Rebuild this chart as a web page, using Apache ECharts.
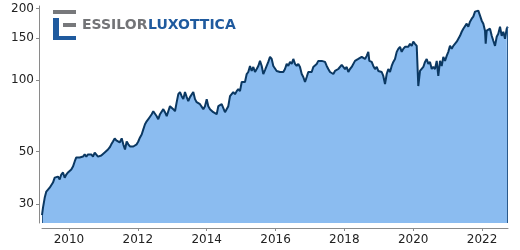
<!DOCTYPE html>
<html>
<head>
<meta charset="utf-8">
<script src="https://cdn.jsdelivr.net/npm/echarts@6/dist/echarts.min.js"></script>
<style>
html,body{margin:0;padding:0;background:#fff;}
#chart{width:520px;height:250px;}
</style>
</head>
<body>
<div id="chart"></div>
<script>
// Decimal years of each sample
const years = [
2009.216,2009.245,2009.294,2009.341,2009.390,2009.439,2009.486,2009.535,2009.585,2009.631,
2009.680,2009.730,2009.776,2009.826,2009.875,2009.922,2009.971,2010.020,2010.067,2010.116,
2010.166,2010.212,2010.261,2010.311,2010.357,2010.407,2010.456,2010.503,2010.552,2010.601,
2010.648,2010.697,2010.747,2010.793,2010.843,2010.892,2010.938,2010.988,2011.037,2011.084,
2011.133,2011.182,2011.229,2011.278,2011.328,2011.374,2011.424,2011.473,
2011.531,2011.578,2011.627,2011.676,2011.723,2011.772,2011.822,2011.868,2011.917,2011.967,
2012.013,2012.063,2012.112,2012.159,2012.208,2012.257,2012.304,2012.353,2012.403,2012.449,
2012.499,2012.548,2012.594,2012.644,2012.693,2012.740,2012.789,2012.839,2012.885,2012.934,
2012.984,2013.030,2013.080,2013.129,2013.176,2013.225,2013.274,2013.321,2013.370,2013.420,
2013.466,2013.515,
2013.565,2013.611,2013.661,2013.710,2013.757,2013.806,2013.855,2013.902,2013.951,2014.001,
2014.047,2014.097,2014.146,2014.192,2014.242,2014.291,2014.338,2014.387,2014.436,2014.483,
2014.532,2014.582,2014.628,2014.678,2014.727,2014.773,2014.823,2014.872,2014.919,2014.968,
2015.018,2015.064,2015.113,2015.163,2015.209,2015.259,2015.308,2015.355,2015.404,2015.453,
2015.500,2015.549,2015.599,2015.645,2015.694,
2015.744,2015.790,2015.840,2015.889,2015.936,2015.985,2016.034,2016.081,2016.130,2016.180,
2016.226,2016.275,2016.325,2016.371,2016.421,2016.470,2016.517,2016.566,2016.615,2016.662,
2016.711,2016.761,2016.807,2016.857,2016.906,2016.952,2017.002,2017.051,2017.098,2017.147,
2017.196,2017.243,2017.292,2017.342,2017.388,2017.438,2017.487,2017.533,2017.583,2017.632,
2017.679,2017.728,2017.778,2017.824,2017.873,
2017.923,2017.969,2018.019,2018.068,2018.115,2018.164,2018.213,2018.260,2018.309,2018.359,
2018.405,2018.454,2018.504,2018.550,2018.600,2018.649,2018.696,2018.725,2018.745,2018.794,
2018.841,2018.890,2018.940,2018.986,2019.036,2019.085,2019.131,2019.181,2019.230,2019.277,
2019.326,2019.375,2019.422,2019.471,2019.521,2019.567,2019.617,2019.666,2019.712,2019.762,
2019.811,2019.858,2019.907,2019.957,2020.003,2020.052,2020.102,2020.148,
2020.198,2020.247,2020.294,2020.343,2020.392,2020.439,2020.488,2020.538,2020.584,2020.633,
2020.683,2020.729,2020.779,2020.828,2020.875,2020.924,2020.973,2021.020,2021.069,2021.119,
2021.165,2021.215,2021.264,2021.310,2021.360,2021.409,2021.456,2021.505,2021.554,2021.601,
2021.650,2021.700,2021.746,2021.796,2021.845,2021.891,2021.941,2021.990,2022.037,2022.086,
2022.106,2022.135,2022.182,2022.231,2022.281,2022.327,2022.377,2022.426,2022.472,2022.522,
2022.571,2022.618,2022.667,2022.717,2022.746
];
// Share price (EUR) at each sample
const prices = [
27.0,29.0,31.9,33.9,34.5,35.2,35.6,37.0,38.8,38.1,
39.2,38.1,40.0,40.8,38.8,40.0,40.8,41.2,42.0,43.2,
45.4,47.2,47.6,47.2,46.3,47.6,48.6,47.6,48.6,48.1,
48.6,47.6,49.5,48.6,47.6,47.2,48.1,47.2,49.5,50.0,
51.0,52.0,53.6,55.1,56.8,55.7,55.1,54.6,
56.8,53.6,51.0,55.1,53.6,52.5,52.0,52.5,52.0,53.6,
55.1,57.3,59.0,62.0,65.1,67.0,68.4,69.0,71.8,73.9,
73.2,70.4,68.4,71.8,73.2,75.4,73.2,70.4,73.9,77.6,
78.4,75.4,73.9,80.7,87.2,89.0,85.5,83.1,89.0,84.7,
81.5,84.7,
85.5,89.0,83.1,80.7,81.5,79.1,77.6,75.4,77.6,83.1,
77.6,75.4,76.8,73.2,73.9,71.8,77.6,76.8,79.1,77.6,
73.2,71.8,77.6,85.5,84.7,89.0,87.2,89.8,91.6,89.8,
98.1,99.0,98.1,106.0,108.1,114.6,109.2,113.5,108.1,111.3,
114.6,120.4,114.6,106.0,110.2,
111.3,119.2,125.2,122.7,114.6,113.5,109.2,111.3,108.1,109.2,
108.1,111.3,116.9,114.6,119.2,116.9,122.7,116.9,114.6,116.9,
113.5,106.0,103.0,98.1,103.0,108.1,109.2,108.1,113.5,114.6,
116.9,120.4,122.7,120.4,119.2,119.2,114.6,111.3,108.1,109.2,
106.0,109.2,108.1,111.3,112.4,
115.8,113.5,111.3,113.5,108.1,111.3,113.5,114.6,120.4,119.2,
122.7,120.4,125.2,126.4,122.7,126.4,131.4,120.4,122.7,119.2,
114.6,111.3,113.5,109.2,111.3,108.1,104.0,96.2,106.0,111.3,
108.1,114.6,119.2,122.7,131.4,135.3,138.0,131.4,135.3,138.0,
139.3,138.0,142.1,139.3,145.0,142.1,139.3,94.3,
109.2,111.3,113.5,119.2,122.7,116.9,119.2,111.3,113.5,111.3,
120.4,104.0,120.4,114.6,125.2,120.4,126.4,131.4,139.3,135.3,
139.3,138.0,145.0,146.3,153.6,159.7,164.5,167.7,172.7,167.7,
176.1,181.3,184.9,194.1,190.4,196.0,186.7,177.8,172.7,161.3,
142.1,161.3,159.7,164.5,153.6,146.3,139.3,152.1,156.6,167.7,
153.6,159.7,149.2,164.5,167.7
];
const yTickValues = [30, 50, 100, 150, 200];
const xTickYears = [2010, 2012, 2014, 2016, 2018, 2020, 2022];
const logoWordA = 'ESSILOR';
const logoWordB = 'LUXOTTICA';

const seriesData = years.map((y, i) => [y, prices[i]]);
const yMin = 25, yMax = 205;
const firstYear = years[0], lastYear = years[years.length - 1];

const chart = echarts.init(document.getElementById('chart'), null, {renderer: 'canvas'});
chart.setOption({
  animation: false,
  backgroundColor: '#ffffff',
  textStyle: {fontFamily: 'DejaVu Sans'},
  grid: {left: 42, right: 12, top: 6, bottom: 27, containLabel: false},
  xAxis: {
    type: 'value',
    min: firstYear,
    max: 2022.754,
    offset: 5,
    axisLine: {show: true, lineStyle: {color: '#8a8a8a', width: 1}},
    axisTick: {show: true, length: 3, customValues: xTickYears, lineStyle: {color: '#8a8a8a'}},
    axisLabel: {customValues: xTickYears, formatter: v => String(Math.round(v)), color: '#222', fontSize: 12, margin: 6, fontFamily: 'DejaVu Sans'},
    splitLine: {show: false}
  },
  yAxis: {
    type: 'log',
    logBase: 10,
    min: yMin,
    max: yMax,
    offset: 3,
    axisLine: {show: true, lineStyle: {color: '#8a8a8a', width: 1}},
    axisTick: {show: true, length: 3, customValues: yTickValues, lineStyle: {color: '#8a8a8a'}},
    axisLabel: {customValues: yTickValues, color: '#222', fontSize: 12, margin: 5, fontFamily: 'DejaVu Sans'},
    splitLine: {show: false}
  },
  graphic: [
    {type: 'rect', shape: {x: 53, y: 10, width: 23, height: 4}, style: {fill: '#77787b'}},
    {type: 'rect', shape: {x: 53, y: 18, width: 6, height: 22}, style: {fill: '#1f5a9e'}},
    {type: 'rect', shape: {x: 53, y: 36, width: 23, height: 4}, style: {fill: '#1f5a9e'}},
    {type: 'rect', shape: {x: 63, y: 23, width: 13, height: 4}, style: {fill: '#77787b'}},
    {type: 'text', x: 82, y: 25.5, style: {text: logoWordA, fill: '#737477', font: 'bold 14px "DejaVu Sans"', textVerticalAlign: 'middle'}},
    {type: 'text', x: 148, y: 25.5, style: {text: logoWordB, fill: '#1f5a9e', font: 'bold 14px "DejaVu Sans"', textVerticalAlign: 'middle'}}
  ],
  series: [{
    type: 'line',
    data: seriesData,
    showSymbol: false,
    symbol: 'none',
    lineStyle: {color: '#0b3862', width: 2},
    areaStyle: {color: '#8bbcf0', opacity: 1, origin: 'start'},
    markLine: {
      silent: true,
      symbol: 'none',
      label: {show: false},
      lineStyle: {color: '#2a5a8c', width: 1, type: 'solid'},
      data: [
        [{coord: [firstYear, yMin]}, {coord: [firstYear, prices[0]]}],
        [{coord: [lastYear, yMin]}, {coord: [lastYear, prices[prices.length - 1]]}]
      ]
    }
  }]
});
</script>
</body>
</html>
